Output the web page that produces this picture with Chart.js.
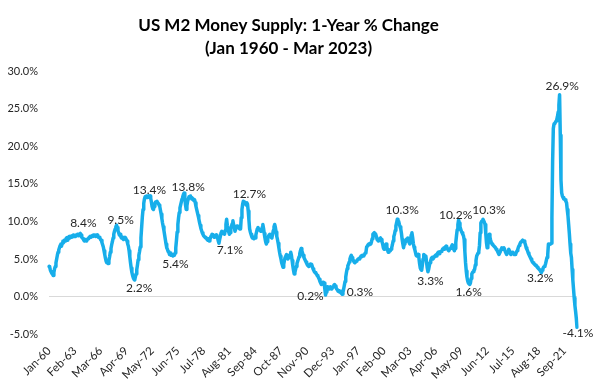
<!DOCTYPE html>
<html><head><meta charset="utf-8">
<script src="https://cdn.jsdelivr.net/npm/chart.js@4.4.0/dist/chart.umd.min.js"></script>
<style>html,body{margin:0;padding:0;background:#fff}canvas{display:block}</style>
</head><body>
<canvas id="c" width="602" height="382"></canvas>
<script>
// ---- text ----
const titleLines = ['US M2 Money Supply: 1-Year % Change', '(Jan 1960 - Mar 2023)'];
const monthNames = ['Jan','Feb','Mar','Apr','May','Jun','Jul','Aug','Sep','Oct','Nov','Dec'];
const startYear = 1960;
const tickLabels = ['Jan-60','Feb-63','Mar-66','Apr-69','May-72','Jun-75','Jul-78','Aug-81','Sep-84','Oct-87',
  'Nov-90','Dec-93','Jan-97','Feb-00','Mar-03','Apr-06','May-09','Jun-12','Jul-15','Aug-18','Sep-21'];

// ---- M2 1-year % change, monthly ----
const values1960s = [
  4.0,3.9,3.5,3.3,3.1,3.0,2.8,3.2,3.7,4.0,4.5,5.0,
  5.5,5.9,6.2,6.5,6.8,7.0,6.7,7.1,7.4,7.2,7.5,7.4,
  7.6,7.8,7.5,7.9,7.7,8.0,7.8,8.0,7.9,8.1,8.0,8.2,
  8.0,8.1,8.0,8.2,8.1,8.3,8.2,8.1,8.3,8.4,8.2,7.9,
  7.8,7.7,7.5,7.4,7.6,7.5,7.4,7.6,7.7,7.8,7.9,8.0,
  7.9,8.0,8.1,8.0,8.2,8.1,8.2,8.0,8.1,8.2,8.0,7.9,
  7.9,7.8,7.6,7.5,7.2,6.9,6.6,6.1,5.6,5.1,4.7,4.5,
  4.5,4.4,4.8,5.3,5.9,6.4,6.9,7.3,7.8,8.3,8.7,9.0,
  9.3,9.5,9.2,8.8,8.5,8.2,8.3,8.0,7.8,7.9,7.7,7.6,
  7.7,7.9,7.8,7.6,7.4,7.0,6.7,6.1,5.3,4.5,3.8,3.2
];
const values1970s = [
  2.8,2.5,2.3,2.2,2.6,3.0,3.6,4.2,4.9,5.5,6.0,6.6,
  7.8,9.2,10.6,11.6,12.4,13.0,13.3,13.2,13.4,13.2,13.3,13.4,
  13.3,13.4,13.1,12.6,12.0,11.7,11.6,12.0,12.4,12.6,12.5,12.7,
  12.5,12.4,12.2,12.0,11.5,11.0,10.4,9.8,9.3,8.8,8.2,7.6,
  7.0,6.5,6.3,6.0,5.9,5.6,5.8,5.5,5.6,5.5,5.4,5.6,
  5.5,5.8,6.5,7.5,8.6,9.6,10.5,11.2,11.8,12.2,12.6,13.0,
  13.3,13.6,13.8,13.1,12.2,11.6,12.1,12.7,13.0,13.3,13.2,13.4,
  13.2,13.0,13.1,12.9,12.8,12.9,12.5,12.0,11.6,11.2,10.8,10.4,
  9.9,9.5,9.1,8.8,8.5,8.3,8.1,8.0,7.9,7.8,7.8,7.6,
  7.5,7.7,7.4,7.6,7.9,8.1,8.3,8.1,8.2,7.9,8.0,8.1
];
const values1980s = [
  8.2,8.1,7.8,7.4,7.1,7.6,8.0,8.5,8.7,8.6,8.4,8.5,
  8.3,8.8,9.6,10.3,9.5,9.0,8.6,8.3,8.5,9.0,9.4,9.7,
  10.1,9.6,9.2,8.7,9.0,9.2,9.4,9.3,9.2,9.1,9.0,9.0,
  10.5,11.6,12.3,12.7,12.6,12.4,12.5,12.2,12.5,12.3,11.4,10.2,
  9.0,8.6,8.3,8.0,7.8,7.9,7.7,7.8,7.8,8.2,8.6,9.0,
  9.2,9.0,8.9,8.8,8.7,8.7,9.2,9.6,9.1,8.4,7.8,7.3,
  7.0,7.3,7.7,8.0,8.2,8.3,8.1,7.9,7.8,8.3,8.8,9.3,
  9.6,9.2,8.6,8.0,7.6,7.1,6.5,5.9,5.4,5.0,4.5,4.2,
  3.9,4.3,4.8,5.2,5.4,5.6,5.3,5.0,5.2,5.4,5.6,5.9,
  5.5,4.8,4.1,3.5,3.0,3.2,3.6,4.0,4.4,4.7,5.0,5.3
];
const values1990s = [
  5.7,6.1,6.4,6.1,5.8,5.5,5.2,5.0,4.8,4.6,4.4,4.2,
  4.1,4.0,4.2,4.3,4.1,4.3,4.0,3.7,3.5,3.3,3.2,3.1,
  3.0,2.8,2.7,2.5,2.3,2.0,1.8,1.6,1.7,1.9,1.9,1.8,
  1.0,0.2,0.6,0.9,1.3,1.2,1.0,1.1,1.3,1.1,1.0,1.2,
  1.3,1.5,1.6,1.4,1.2,1.0,0.9,0.7,0.8,0.6,0.7,0.5,
  0.4,0.3,0.6,1.0,1.5,2.0,2.6,3.2,3.7,4.1,4.3,4.6,
  5.0,5.3,5.5,5.2,5.0,4.8,4.6,4.5,4.6,4.7,4.8,4.9,
  5.0,5.1,5.0,5.2,5.4,5.3,5.5,5.4,5.5,5.6,5.8,5.9,
  6.6,6.7,6.9,7.0,6.9,7.1,7.0,7.3,7.7,8.3,8.4,8.5,
  8.5,8.3,8.0,7.6,7.5,7.4,7.5,7.7,7.8,7.6,7.3,7.0
];
const values2000s = [
  6.5,6.3,6.5,6.8,7.0,6.6,6.2,5.9,6.0,6.2,6.1,6.3,
  6.5,6.9,7.4,8.0,8.3,8.8,9.4,9.8,10.3,10.1,10.0,9.6,
  9.3,9.0,8.4,7.6,7.0,6.5,7.0,7.4,7.3,7.6,7.7,7.8,
  7.5,7.2,7.0,7.6,8.2,8.5,7.9,7.1,6.6,6.3,5.9,5.5,
  5.4,5.5,5.6,5.2,4.4,3.8,3.6,3.5,4.2,5.0,5.6,5.5,
  5.3,5.4,4.6,3.8,3.3,3.6,4.1,4.5,4.8,5.1,5.2,5.0,
  5.1,5.3,5.4,5.5,5.4,5.6,5.8,5.9,5.7,5.9,6.0,6.0,
  6.1,6.3,6.4,6.5,6.3,6.6,6.7,6.5,6.4,6.2,6.1,6.3,
  6.4,6.5,6.7,6.9,6.6,6.3,6.1,6.4,7.2,8.1,8.9,9.6,
  10.2,9.8,9.3,9.0,8.7,8.5,8.3,8.1,7.6,6.0,4.5,3.4
];
const values2010s = [
  2.6,2.1,1.8,1.7,1.6,1.8,2.4,3.0,3.2,3.3,3.5,3.6,
  4.2,4.8,5.4,5.6,5.8,6.0,6.8,8.5,9.8,10.0,10.1,10.3,
  10.1,9.9,9.6,8.4,7.2,6.5,6.8,7.4,8.3,7.9,7.5,7.2,
  7.0,6.9,6.8,6.7,6.7,6.5,6.3,6.2,6.0,5.8,5.6,5.8,
  6.0,6.3,6.5,6.4,6.3,6.5,6.3,6.0,5.8,5.6,5.8,6.0,
  6.3,6.1,5.8,5.6,5.7,5.9,5.8,5.7,5.6,5.6,5.7,5.9,
  6.1,6.3,6.6,6.8,7.0,7.2,7.3,7.4,7.5,7.4,7.4,7.2,
  6.9,6.5,6.3,6.1,5.8,5.6,5.4,5.2,5.0,4.8,4.6,4.5,
  4.4,4.3,4.2,4.1,4.1,3.9,3.8,3.7,3.6,3.5,3.3,3.2,
  3.5,3.7,3.9,4.0,4.1,4.4,4.8,5.2,5.6,7.0,6.9,6.9
];
const values2020s = [
  7.0,7.1,10.5,18.0,22.4,23.0,23.1,23.2,23.4,23.6,24.0,24.6,
  25.5,26.9,21.5,15.5,13.8,13.4,13.2,13.0,13.0,12.9,12.7,12.5,
  11.6,10.8,9.6,8.4,7.0,5.8,5.2,3.6,2.2,1.0,-0.2,-1.2,
  -2.0,-2.9,-4.1
];

// indices of the labelled highs/lows
const calloutIndex = [45, 97, 123, 140, 178, 194, 244, 279, 397, 421, 500, 544, 588, 604, 623, 707, 733, 758];

// ---- style ----
const calloutOffset = [
  [3,-10],[4,-5],[4.5,8.5],[3,-5.5],[2.4,8.3],[4,-6],[11,6.8],[6,-7],[-15,1],[17.6,-1.7],
  [5,-9],[2.6,9],[-3,-4.6],[-1,7.4],[6,-9],[-1.3,6],[2.6,-8.3],[1,6]
];
const lineColor = '#17AEEA';
const textColor = '#262626';

const values = [].concat(values1960s, values1970s, values1980s, values1990s, values2000s, values2010s, values2020s);
const categories = values.map((v, i) => {
  const y = (startYear + Math.floor(i / 12)) % 100;
  return monthNames[i % 12] + '-' + String(y).padStart(2, '0');
});

const calloutPlugin = {
  id: 'callouts',
  afterDatasetsDraw(chart) {
    const meta = chart.getDatasetMeta(0);
    const ctx = chart.ctx;
    ctx.save();
    ctx.font = '12px Lato';
    ctx.fillStyle = textColor;
    ctx.textAlign = 'center';
    ctx.textBaseline = 'middle';
    calloutIndex.forEach((idx, k) => {
      const el = meta.data[idx];
      const txt = values[idx].toFixed(1) + '%';
      ctx.fillText(txt, el.x + calloutOffset[k][0], el.y + calloutOffset[k][1]);
    });
    ctx.restore();
  }
};

new Chart(document.getElementById('c'), {
  type: 'line',
  data: {
    labels: categories,
    datasets: [{
      data: values,
      borderColor: lineColor,
      borderWidth: 3.5,
      pointRadius: 0,
      tension: 0,
      fill: false,
      borderJoinStyle: 'round',
      borderCapStyle: 'round'
    }]
  },
  options: {
    responsive: false,
    animation: false,
    layout: { padding: { left: 0, right: 25, top: 0, bottom: 0 } },
    plugins: {
      legend: { display: false },
      tooltip: { enabled: false },
      title: {
        display: true,
        text: titleLines,
        color: '#000',
        font: { family: 'Lato', size: 17, weight: 'bold', lineHeight: 1.35 },
        padding: { top: 14.5, bottom: 11 }
      }
    },
    scales: {
      x: {
        type: 'category',
        offset: false,
        grid: { display: false, drawTicks: false },
        border: { display: false },
        afterFit: s => { s.height = 48; },
        ticks: {
          autoSkip: false,
          maxRotation: 45,
          minRotation: 45,
          padding: 10,
          color: textColor,
          font: { family: 'Lato', size: 11.5 },
          callback: function (val, index) {
            const lab = categories[index];
            return tickLabels.includes(lab) ? lab : null;
          }
        }
      },
      y: {
        min: -5,
        max: 30,
        afterFit: s => { s.width = 49; },
        grid: {
          drawTicks: false,
          color: c => (c.tick && c.tick.value === 0 ? '#D9D9D9' : 'rgba(0,0,0,0)'),
          lineWidth: 1
        },
        border: { display: false },
        ticks: {
          stepSize: 5,
          padding: 11,
          color: textColor,
          font: { family: 'Lato', size: 11 },
          callback: v => v.toFixed(1) + '%'
        }
      }
    }
  },
  plugins: [calloutPlugin]
});
</script>
</body></html>
